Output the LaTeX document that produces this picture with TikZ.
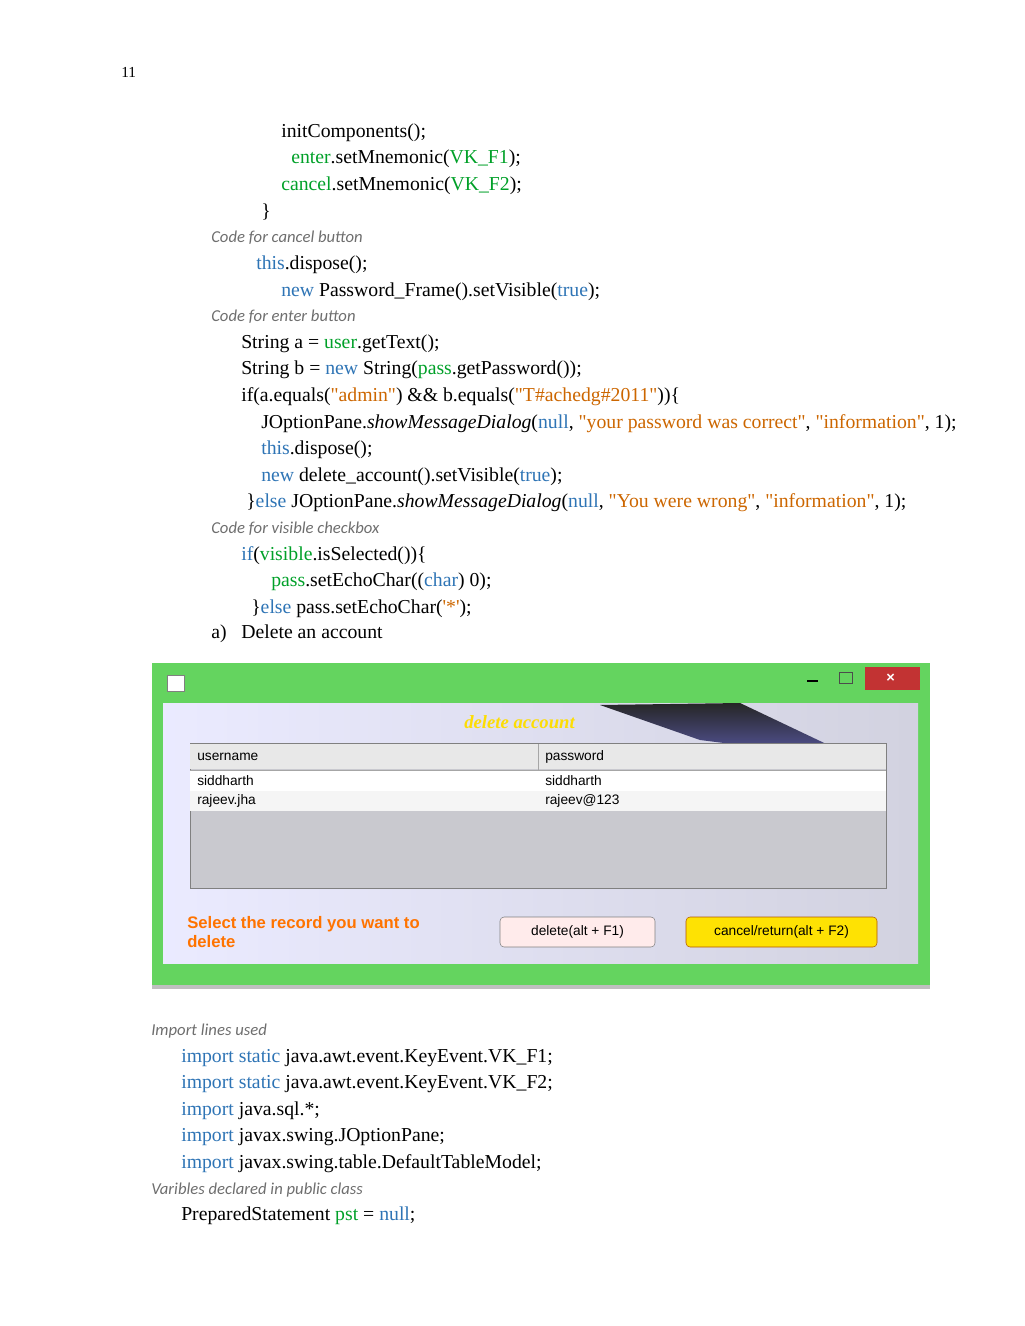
\documentclass[tikz,border=0pt]{standalone}
\usepackage{fontspec}
\setmainfont{Liberation Serif}
\newfontfamily\qf{Liberation Serif}
\newfontfamily\calfnt{Carlito}
\newfontfamily\uifnt{Liberation Sans}
\newcommand{\dq}{{\qf\symbol{34}}}
\newcommand{\sq}{{\qf\symbol{39}}}
\definecolor{kb}{RGB}{46,116,181}
\definecolor{kg}{RGB}{0,160,40}
\definecolor{ko}{RGB}{204,102,0}
\definecolor{cm}{RGB}{110,110,110}
\definecolor{gfr}{RGB}{100,212,95}
\tikzset{t/.style={anchor=west,inner sep=0pt,font=\fontsize{14.8}{16}\selectfont},
c/.style={anchor=west,inner sep=0pt,font=\calfnt\itshape\fontsize{12.5}{14}\selectfont,text=cm},
u/.style={anchor=west,inner sep=0pt,font=\uifnt\fontsize{10.3}{12}\selectfont}}
\begin{document}
\begin{tikzpicture}[x=0.75pt,y=-0.75pt]
\useasboundingbox (0,0) rectangle (1024,1326);
\node[t] (pg) at (121,72) {\fontsize{11.5}{13}\selectfont 11};
\node[t] (l1) at (281,133) {initComponents();};
\node[t] (l2) at (291,159) {\textcolor{kg}{enter}.setMnemonic(\textcolor{kg}{VK\_F1});};
\node[t] (l3) at (281,186) {\textcolor{kg}{cancel}.setMnemonic(\textcolor{kg}{VK\_F2});};
\node[t] (l4) at (261,212) {\}};
\node[c] (c1) at (211,238) {Code for cancel button};
\node[t] (l5) at (256,265) {\textcolor{kb}{this}.dispose();};
\node[t] (l6) at (281,292) {\textcolor{kb}{new} Password\_Frame().setVisible(\textcolor{kb}{true});};
\node[c] (c2) at (211,317) {Code for enter button};
\node[t] (l7) at (241,344) {String a = \textcolor{kg}{user}.getText();};
\node[t] (l8) at (241,370) {String b = \textcolor{kb}{new} String(\textcolor{kg}{pass}.getPassword());};
\node[t] (l9) at (241,397) {if(a.equals(\textcolor{ko}{\dq admin\dq}) \&\& b.equals(\textcolor{ko}{\dq T\#achedg\#2011\dq}))\{};
\node[t] (l10) at (261,424) {JOptionPane.\textit{showMessageDialog}(\textcolor{kb}{null}, \textcolor{ko}{\dq your password was correct\dq}, \textcolor{ko}{\dq information\dq}, 1);};
\node[t] (l11) at (261,450) {\textcolor{kb}{this}.dispose();};
\node[t] (l12) at (261,477) {\textcolor{kb}{new} delete\_account().setVisible(\textcolor{kb}{true});};
\node[t] (l13) at (246,503) {\}\textcolor{kb}{else} JOptionPane.\textit{showMessageDialog}(\textcolor{kb}{null}, \textcolor{ko}{\dq You were wrong\dq}, \textcolor{ko}{\dq information\dq}, 1);};
\node[c] (c3) at (211,529) {Code for visible checkbox};
\node[t] (l14) at (241,556) {\textcolor{kb}{if}(\textcolor{kg}{visible}.isSelected())\{};
\node[t] (l15) at (271,582) {\textcolor{kg}{pass}.setEchoChar((\textcolor{kb}{char}) 0);};
\node[t] (l16) at (251,609) {\}\textcolor{kb}{else} pass.setEchoChar(\textcolor{ko}{\sq*\sq});};
\node[t] (l17) at (211,634) {a)\hspace{11pt}Delete an account};
% screenshot
\fill[gfr] (152,663) rectangle (930,985);
\fill[gray!50] (152,985) rectangle (930,989);
\fill[red!70!black!80] (865,667) rectangle (920,690);
\node[u,text=white,font=\uifnt\bfseries\fontsize{11}{12}\selectfont] (x) at (886,678) {×};
\draw[black,line width=1.2] (807,681) -- (818,681);
\draw[black!70] (839,672) rectangle (852,683);
\draw[gray,fill=white] (167,675) rectangle (184,691);
\shade[left color=blue!8!white,right color=blue!18!gray!30!white] (163,703) rectangle (918,963);
\shade[top color=black!85,bottom color=blue!30!gray] (600,705) -- (740,703) -- (860,760) -- (700,740) -- cycle;
\node[u,font=\bfseries\itshape\fontsize{14}{14}\selectfont,text=yellow!80!orange] (ttl) at (464,722) {delete account};
\fill[blue!5!gray!40] (190,743) rectangle (886,888);
\draw[gray] (190,743) rectangle (886,888);
\fill[gray!18] (190,744) rectangle (886,769);
\draw[gray!70] (190,770) -- (886,770) (538,744) -- (538,770);
\fill[white] (190,771) rectangle (886,791);
\fill[gray!8] (190,791) rectangle (886,811);
\node[u] (h1) at (197,757) {username};
\node[u] (h2) at (545,757) {password};
\node[u] (r1) at (197,781) {siddharth};
\node[u] (r2) at (545,781) {siddharth};
\node[u] (r3) at (197,801) {rajeev.jha};
\node[u] (r4) at (545,801) {rajeev@123};
\node[u,font=\uifnt\bfseries\fontsize{12.5}{14}\selectfont,text=orange!90!red,align=left] (sel) at (187,932) {Select the record you want to\\delete};
\node[draw=gray,fill=red!8,rounded corners=3,minimum width=155*0.75pt,minimum height=30*0.75pt,font=\uifnt\fontsize{10.3}{12}\selectfont] (b1) at (577.5,932) {delete(alt + F1)};
\node[draw=orange!70!black,fill=yellow!85!orange,rounded corners=3,minimum width=191*0.75pt,minimum height=30*0.75pt,font=\uifnt\fontsize{10.3}{12}\selectfont] (b2) at (781.5,932) {cancel/return(alt + F2)};
% bottom text
\node[c] (c4) at (151,1031) {Import lines used};
\node[t] (i1) at (181,1058) {\textcolor{kb}{import static} java.awt.event.KeyEvent.VK\_F1;};
\node[t] (i2) at (181,1084) {\textcolor{kb}{import static} java.awt.event.KeyEvent.VK\_F2;};
\node[t] (i3) at (181,1111) {\textcolor{kb}{import} java.sql.*;};
\node[t] (i4) at (181,1137) {\textcolor{kb}{import} javax.swing.JOptionPane;};
\node[t] (i5) at (181,1164) {\textcolor{kb}{import} javax.swing.table.DefaultTableModel;};
\node[c] (c5) at (151,1190) {Varibles declared in public class};
\node[t] (v1) at (181,1216) {PreparedStatement \textcolor{kg}{pst} = \textcolor{kb}{null};};
\end{tikzpicture}
\end{document}
